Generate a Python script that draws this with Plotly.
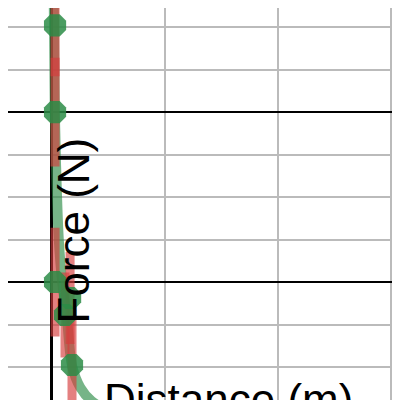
import plotly.graph_objects as go

# measured points (distance m, force N)
dist = [0.027, 0.027, 0.027, 0.16, 0.115, 0.177]
force = [2.51, 2.0, 1.0, 0.906, 0.806, 0.512]
force_err = [0.3, 0.32, 0.32, 0.27, 0.25, 0.35]

# fitted curve
fit_x = [0.015, 0.025, 0.04, 0.06, 0.09, 0.13, 0.18, 0.25, 0.35, 0.5, 0.65]
fit_y = [2.7, 2.0, 1.6, 1.25, 1.0, 0.8, 0.5, 0.38, 0.3, 0.24, 0.2]

fig = go.Figure()
fig.add_trace(go.Scatter(
    x=fit_x, y=fit_y, mode="lines", line_shape="spline",
    line=dict(color="rgba(44,140,70,0.65)", width=10), showlegend=False,
))
fig.add_trace(go.Scatter(
    x=dist, y=force, mode="markers",
    marker=dict(color="rgba(44,140,70,0.85)", size=24, symbol="octagon"),
    error_y=dict(type="data", array=force_err, color="rgba(214,60,60,0.65)",
                 thickness=9, width=0),
    showlegend=False,
))

fig.update_xaxes(range=[-0.389, 3.148], dtick=4, tick0=0, showgrid=True, gridcolor="black",
                 gridwidth=1.5, minor=dict(dtick=1, showgrid=True, gridcolor="#bbbbbb"),
                 zeroline=True, zerolinecolor="black", zerolinewidth=3,
                 showticklabels=False, ticks="")
fig.update_yaxes(range=[0.259, 2.612], dtick=1, tick0=0, showgrid=True, gridcolor="black",
                 gridwidth=1.5, minor=dict(dtick=0.25, showgrid=True, gridcolor="#bbbbbb"),
                 zeroline=False, showticklabels=False, ticks="")

fig.add_annotation(text="Force (N)", xref="paper", yref="paper", x=0.095, y=0.68,
                   textangle=-90, showarrow=False,
                   font=dict(family="Liberation Sans", size=44, color="black"))
fig.add_annotation(text="Distance (m)", xref="paper", yref="paper", x=0.55, y=-0.045,
                   yanchor="bottom", showarrow=False,
                   font=dict(family="Liberation Sans", size=44, color="black"))

fig.update_layout(width=400, height=400, margin=dict(l=0, r=0, t=0, b=0),
                  plot_bgcolor="white", paper_bgcolor="white")
fig.write_html("out.html")
